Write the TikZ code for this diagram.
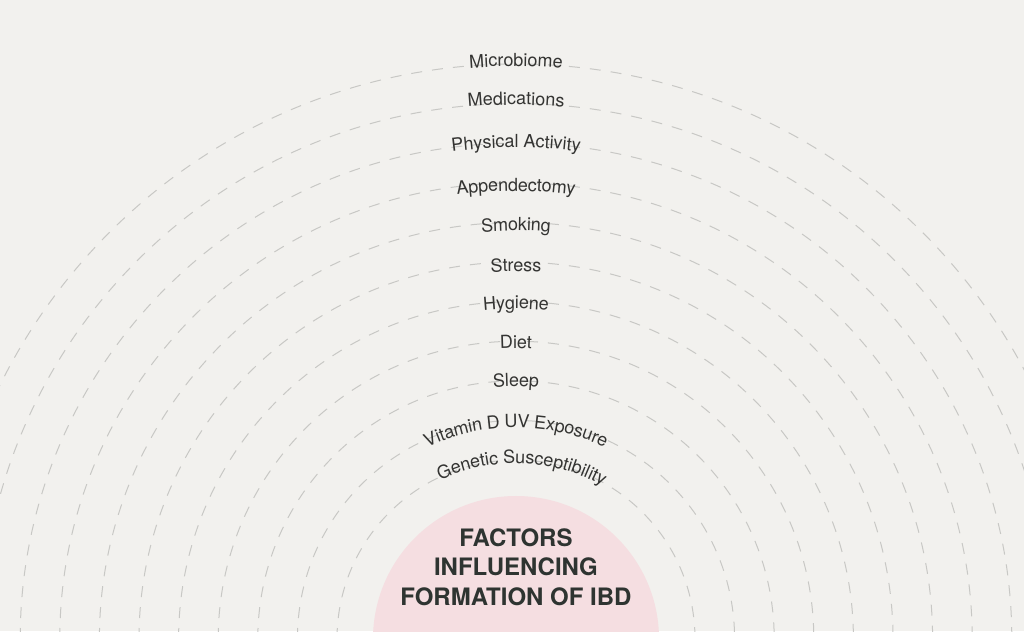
\documentclass[tikz,border=0pt]{standalone}
\usepackage{fontspec}
\setmainfont{TeX Gyre Heros}
\usetikzlibrary{decorations.text}
\definecolor{bgc}{RGB}{242,241,238}
\definecolor{pinkc}{RGB}{245,222,225}
\definecolor{dashc}{RGB}{200,200,197}
\definecolor{textc}{RGB}{52,52,50}
\definecolor{headc}{RGB}{46,52,49}
\newcommand{\labelfont}{\fontsize{18}{20}\selectfont}
\newlength{\labw}
\tikzset{
  arcline/.style={draw=dashc, line width=1pt, dash pattern=on 11pt off 10pt},
  heading/.style={align=center, text=headc, font=\fontsize{24}{29.5}\selectfont\bfseries}
}
\begin{document}
\begin{tikzpicture}[x=1pt,y=1pt]
\useasboundingbox (0,0) rectangle (1024,631);
\fill[bgc] (0,0) rectangle (1024,631);
\clip (0,0) rectangle (1024,631);
\coordinate (c) at (516,-8);
\fill[pinkc] (c) circle[radius=143];
\foreach \k/\lab/\dr/\ea in {0/Genetic Susceptibility/3/-4, 1/Vitamin D UV Exposure/-1/0, 2/Sleep/1/0, 3/Diet/-1/0, 4/Hygiene/-1/0, 5/Stress/-3/0, 6/Smoking/-2/0, 7/Appendectomy/-2/0, 8/Physical Activity/2/0, 9/Medications/5/0, 10/Microbiome/4/0}{
  \pgfmathsetmacro\R{179+39.6*\k}
  \pgfmathsetmacro\rs{\dr-6.3}
  \settowidth{\labw}{\labelfont \lab}
  \pgfmathsetmacro\ga{deg((\labw/2+11)/\R)}
  \pgfmathsetmacro\mid{90+\ea/2}
  \draw[arcline] (c) ++(180:\R) arc[start angle=180, end angle={\mid+\ga}, radius=\R];
  \draw[arcline] (c) ++({\mid-\ga}:\R) arc[start angle={\mid-\ga}, end angle=0, radius=\R];
  \path[decorate, decoration={text along path, text/.expanded={|\noexpand\labelfont|\lab}, text color=textc, text align=center, raise=\rs pt}]
    (c) ++(180:\R) arc[start angle=180, end angle=\ea, radius=\R];
}
\node[heading] (title) at (516,64) {FACTORS\\INFLUENCING\\FORMATION OF IBD};
\end{tikzpicture}
\end{document}
